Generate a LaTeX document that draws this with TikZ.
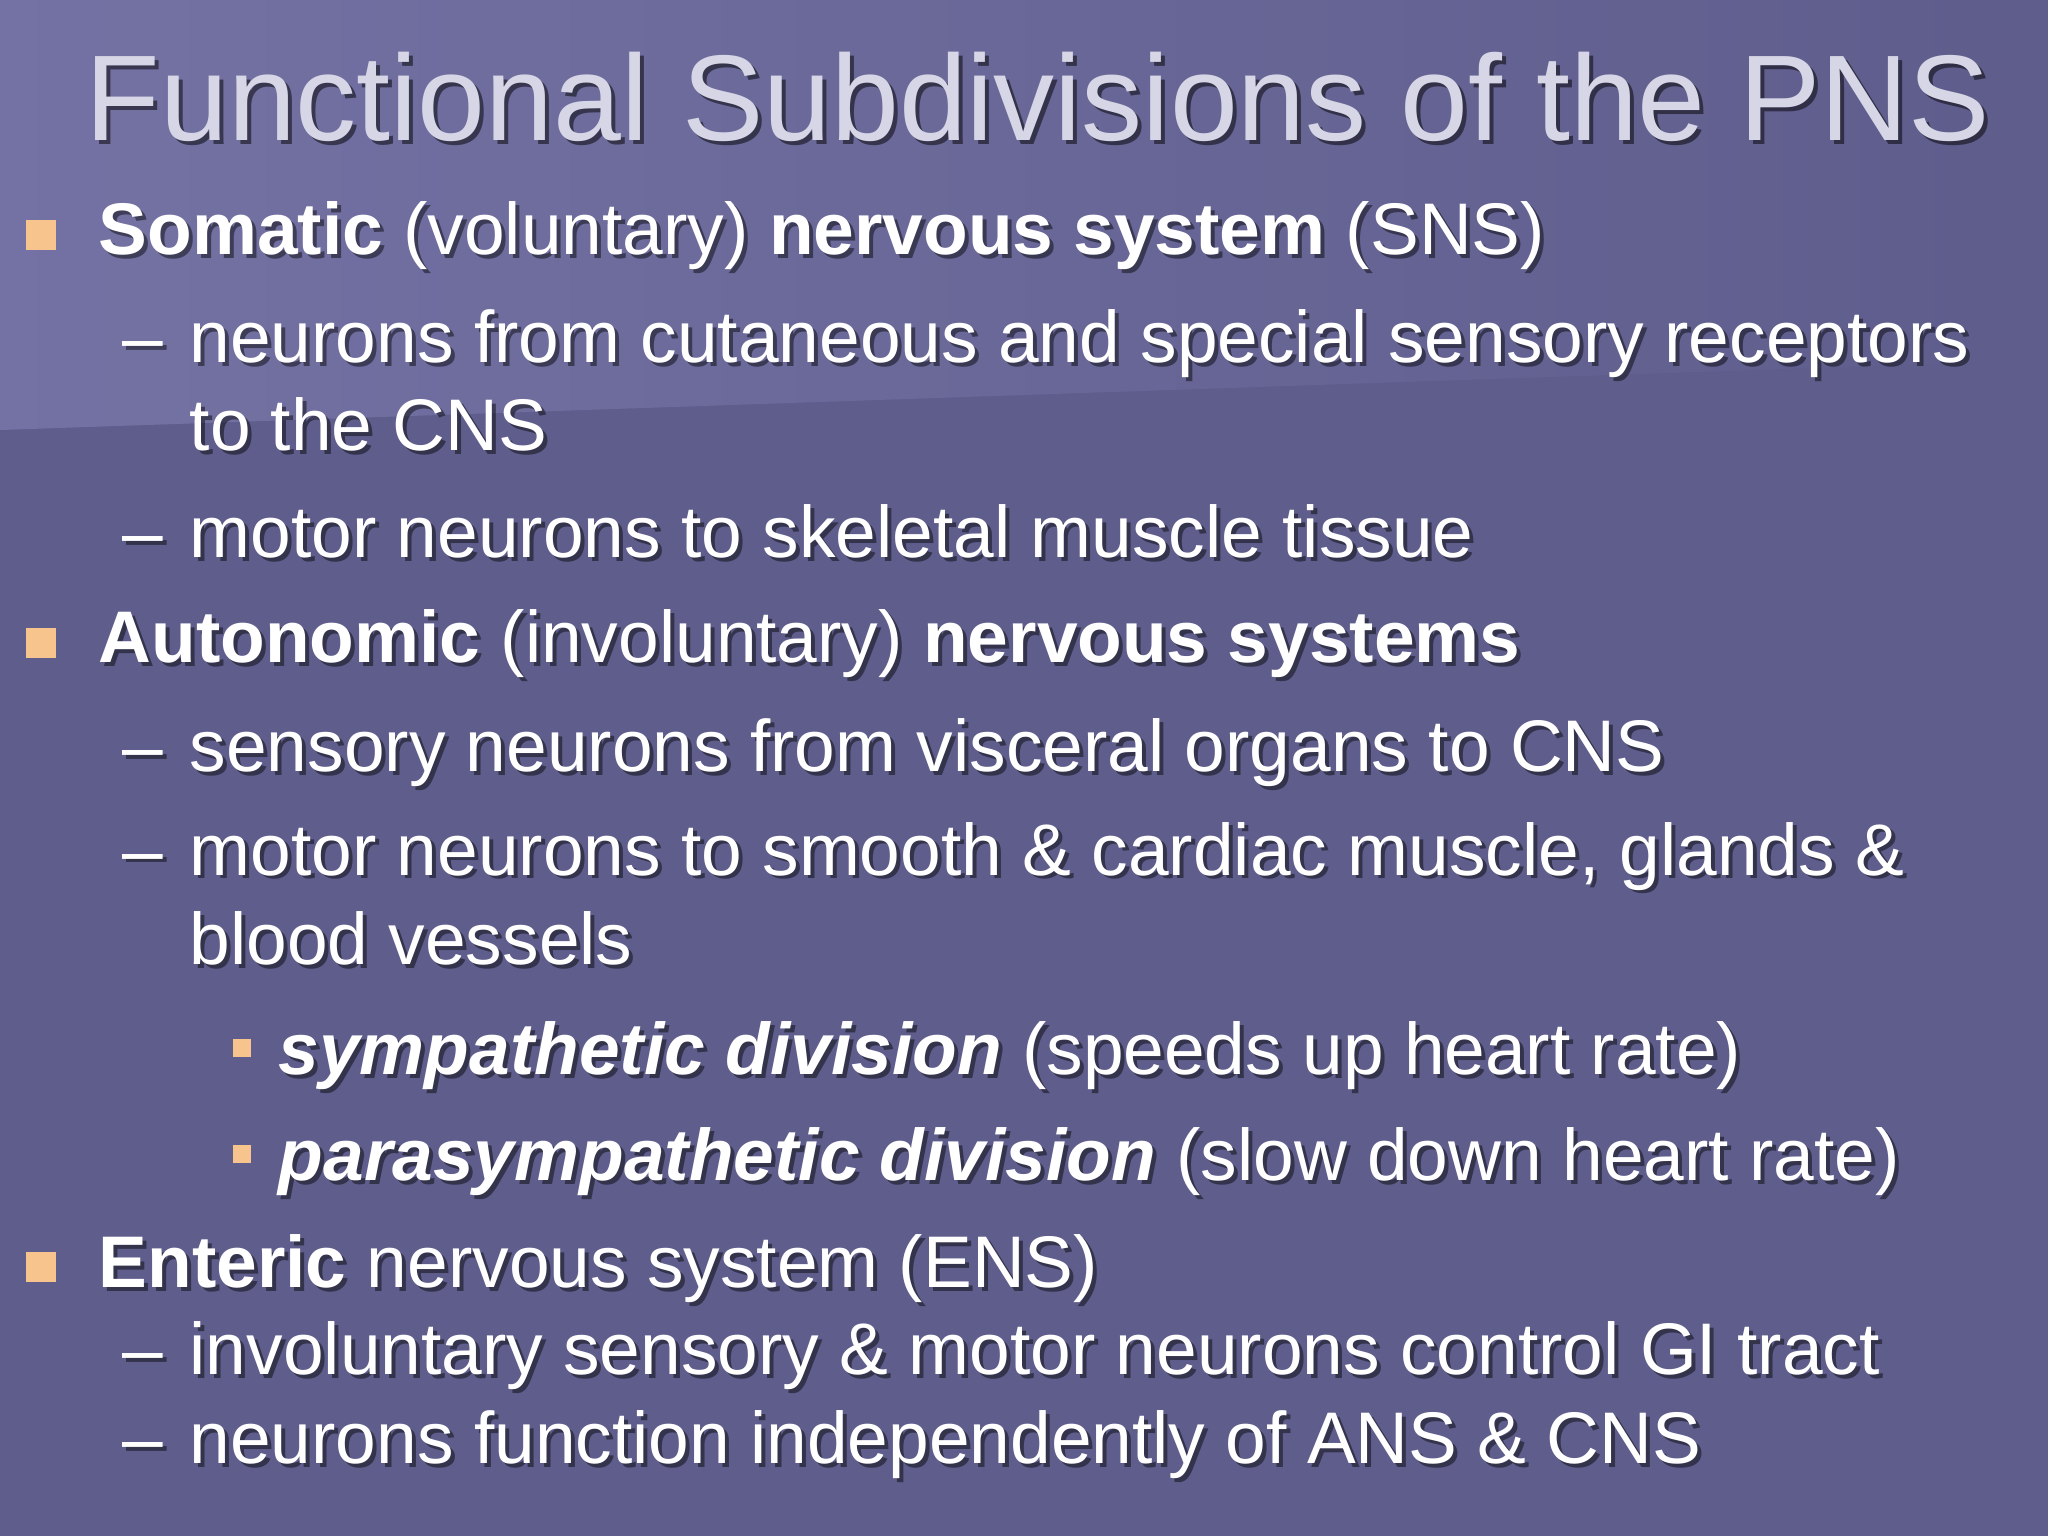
\documentclass[tikz,border=0pt]{standalone}
\usepackage{fontspec}
\setmainfont{Liberation Sans}
\definecolor{bgc}{RGB}{95,93,140}
\definecolor{bgl}{RGB}{122,120,170}
\definecolor{titc}{RGB}{214,214,230}
\definecolor{bul}{RGB}{246,196,140}
\tikzset{
 txt/.style={anchor=base west,inner sep=0pt,text=white,font=\fontsize{20.8}{23}\selectfont},
 shd/.style={anchor=base west,inner sep=0pt,text=black,opacity=0.45,font=\fontsize{20.8}{23}\selectfont},
 bigbul/.style={fill=bul,minimum size=0.3cm,inner sep=0pt},
 smbul/.style={fill=bul,minimum size=0.18cm,inner sep=0pt}
}
\newcommand{\slideline}[4]{\node[shd] (#1s) at ([shift={(0.04,-0.04)}]#2,#3) {#4};\node[txt] (#1) at (#2,#3) {#4};}
\begin{document}
\begin{tikzpicture}
\useasboundingbox (0,0) rectangle (20.48,-15.36);
\fill[bgc] (0,0) rectangle (20.48,-15.36);
\shade[left color=bgl,right color=bgc,opacity=0.8] (0,0) -- (20.48,0) -- (20.48,-3.6) -- (0,-4.3) -- cycle;
\node[anchor=base west,inner sep=0pt,text=black,opacity=0.5,font=\fontsize{34.7}{38}\selectfont] (ts) at (0.89,-1.45) {Functional Subdivisions of the PNS};
\node[anchor=base west,inner sep=0pt,text=titc,font=\fontsize{34.7}{38}\selectfont] (t) at (0.85,-1.41) {Functional Subdivisions of the PNS};
\node[bigbul] (b1) at (0.41,-2.35) {};
\node[bigbul] (b2) at (0.41,-6.43) {};
\node[bigbul] (b3) at (0.41,-12.67) {};
\node[smbul] (s1) at (2.42,-10.48) {};
\node[smbul] (s2) at (2.42,-11.54) {};
\slideline{l1}{0.98}{-2.55}{\textbf{Somatic} (voluntary) \textbf{nervous system} (SNS)}
\slideline{l2}{1.22}{-3.63}{–}
\slideline{l2a}{1.89}{-3.63}{neurons from cutaneous and special sensory receptors}
\slideline{l3}{1.89}{-4.51}{to the CNS}
\slideline{l4}{1.22}{-5.58}{–}
\slideline{l4a}{1.89}{-5.58}{motor neurons to skeletal muscle tissue}
\slideline{l5}{0.98}{-6.63}{\textbf{Autonomic} (involuntary) \textbf{nervous systems}}
\slideline{l6}{1.22}{-7.71}{–}
\slideline{l6a}{1.89}{-7.71}{sensory neurons from visceral organs to CNS}
\slideline{l7}{1.22}{-8.75}{–}
\slideline{l7a}{1.89}{-8.75}{motor neurons to smooth \& cardiac muscle, glands \&}
\slideline{l8}{1.89}{-9.64}{blood vessels}
\slideline{l9}{2.78}{-10.74}{\textbf{\textit{sympathetic division}} (speeds up heart rate)}
\slideline{l10}{2.78}{-11.80}{\textbf{\textit{parasympathetic division}} (slow down heart rate)}
\slideline{l11}{0.98}{-12.87}{\textbf{Enteric} nervous system (ENS)}
\slideline{l12}{1.22}{-13.74}{–}
\slideline{l12a}{1.89}{-13.74}{involuntary sensory \& motor neurons control GI tract}
\slideline{l13}{1.22}{-14.63}{–}
\slideline{l13a}{1.89}{-14.63}{neurons function independently of ANS \& CNS}
\end{tikzpicture}
\end{document}
